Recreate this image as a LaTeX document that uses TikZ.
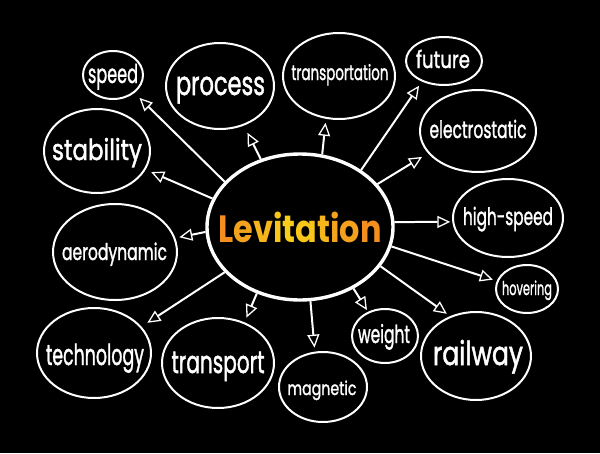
\documentclass[tikz,border=0pt]{standalone}
\usepackage{fontspec}
\setmainfont{Poppins}
\newfontfamily\handfont{Poppins}[FakeBold=1.6]
\usetikzlibrary{arrows.meta,shapes.geometric}
\newcommand\fitlbl[3]{{\handfont\fontsize{#2}{#2}\selectfont\resizebox{#1}{\height}{#3}}}
\definecolor{lvA}{HTML}{F28F1E}
\definecolor{lvB}{HTML}{F4A21D}
\definecolor{lvC}{HTML}{F6B61B}
\definecolor{lvD}{HTML}{F8C61A}
\definecolor{lvE}{HTML}{F8CC1A}
\begin{document}
\begin{tikzpicture}[x=1pt,y=-1pt,
  ring/.style={draw=white, line width=2pt, ellipse, inner sep=0pt},
  lbl/.style={text=white, anchor=base, inner sep=0pt},
  arr/.style={draw=white, line width=2pt, -{Triangle[open, length=13pt, width=12pt, line width=1.3pt]}},
]
\fill[black] (0,0) rectangle (600,453);
\useasboundingbox (0,0) rectangle (600,453);

% central node
\node[ring, line width=3.4pt, minimum width=186pt, minimum height=146pt] (lev) at (300,227) {};
\node[lbl] (levt) at (300,242) {{\setmainfont{Poppins}\fontsize{38pt}{38pt}\selectfont\bfseries\resizebox{163pt}{\height}{\textcolor{lvA}{L}\textcolor{lvB}{e}\textcolor{lvC}{v}\textcolor{lvD}{i}\textcolor{lvE}{t}\textcolor{lvD}{a}\textcolor{lvC}{t}\textcolor{lvB}{i}\textcolor{lvB}{o}\textcolor{lvA}{n}}}};

% outer ellipses
\node[ring, minimum width=60pt, minimum height=48pt] (speed) at (113,75) {};
\node[ring, minimum width=108pt, minimum height=86pt] (process) at (220,86) {};
\node[ring, minimum width=106pt, minimum height=84pt] (stab) at (97,151) {};
\node[ring, minimum width=112pt, minimum height=86pt] (transportation) at (339,76) {};
\node[ring, minimum width=76pt, minimum height=48pt] (future) at (444,61) {};
\node[ring, minimum width=116pt, minimum height=82pt] (electro) at (478,131) {};
\node[ring, minimum width=110pt, minimum height=78pt] (highspeed) at (508,218) {};
\node[ring, minimum width=62pt, minimum height=48pt] (hovering) at (527,289) {};
\node[ring, minimum width=110pt, minimum height=88pt] (railway) at (476,356) {};
\node[ring, minimum width=66pt, minimum height=54pt] (weight) at (385,336) {};
\node[ring, minimum width=88pt, minimum height=70pt] (magnetic) at (323,387) {};
\node[ring, minimum width=112pt, minimum height=90pt] (transport) at (218,363) {};
\node[ring, minimum width=114pt, minimum height=90pt] (tech) at (94,353) {};
\node[ring, minimum width=124pt, minimum height=96pt] (aero) at (115,252) {};

% labels
\node[lbl] (speedt) at (113,83) {\fitlbl{50pt}{26pt}{speed}};
\node[lbl] (processt) at (220.5,95) {\fitlbl{89pt}{33pt}{process}};
\node[lbl] (stabt) at (97,160) {\fitlbl{90pt}{29pt}{stability}};
\node[lbl] (transportationt) at (340,80) {\fitlbl{97pt}{21pt}{transportation}};
\node[lbl] (futuret) at (443,68) {\fitlbl{54pt}{24pt}{future}};
\node[lbl] (electrot) at (478,138) {\fitlbl{97pt}{24pt}{electrostatic}};
\node[lbl] (highspeedt) at (508,225) {\fitlbl{90pt}{24pt}{high-speed}};
\node[lbl] (hoveringt) at (527,295) {\fitlbl{50pt}{19pt}{hovering}};
\node[lbl] (railwayt) at (478,365) {\fitlbl{90pt}{33pt}{railway}};
\node[lbl] (weightt) at (384,343) {\fitlbl{52pt}{25pt}{weight}};
\node[lbl] (magnetict) at (322,395) {\fitlbl{69pt}{19pt}{magnetic}};
\node[lbl] (transportt) at (218,373) {\fitlbl{93pt}{31pt}{transport}};
\node[lbl] (techt) at (95,365) {\fitlbl{98pt}{29pt}{technology}};
\node[lbl] (aerot) at (114.5,260) {\fitlbl{105pt}{23pt}{aerodynamic}};

% connectors
\draw[arr, shorten >=7pt] (lev.149.7) -- (speed.-40);
\draw[arr, shorten >=8pt] (lev.120.8) -- (process.-59);
\draw[arr, shorten >=6pt] (lev.162) -- (stab.-21);
\draw[arr, shorten >=4pt] (lev.183) -- (aero.13);
\draw[arr, shorten >=7pt] (lev.211) -- (tech.29);
\draw[arr, shorten >=5pt] (lev.237) -- (transport.57);
\draw[arr, shorten >=4pt] (lev.278) -- (magnetic.103);
\draw[arr, shorten >=2pt] (lev.311) -- (weight.125);
\draw[arr, shorten >=4pt] (lev.334.6) -- (railway.123);
\draw[arr, shorten >=4pt] (lev.348) -- (hovering.165);
\draw[arr, shorten >=2pt] (lev.3) -- (highspeed.184);
\draw[arr, shorten >=7pt] (lev.29.4) -- (electro.204);
\draw[arr, shorten >=5pt] (lev.43) -- (future.223);
\draw[arr, shorten >=4pt] (lev.73) -- (transportation.253);
\end{tikzpicture}
\end{document}
